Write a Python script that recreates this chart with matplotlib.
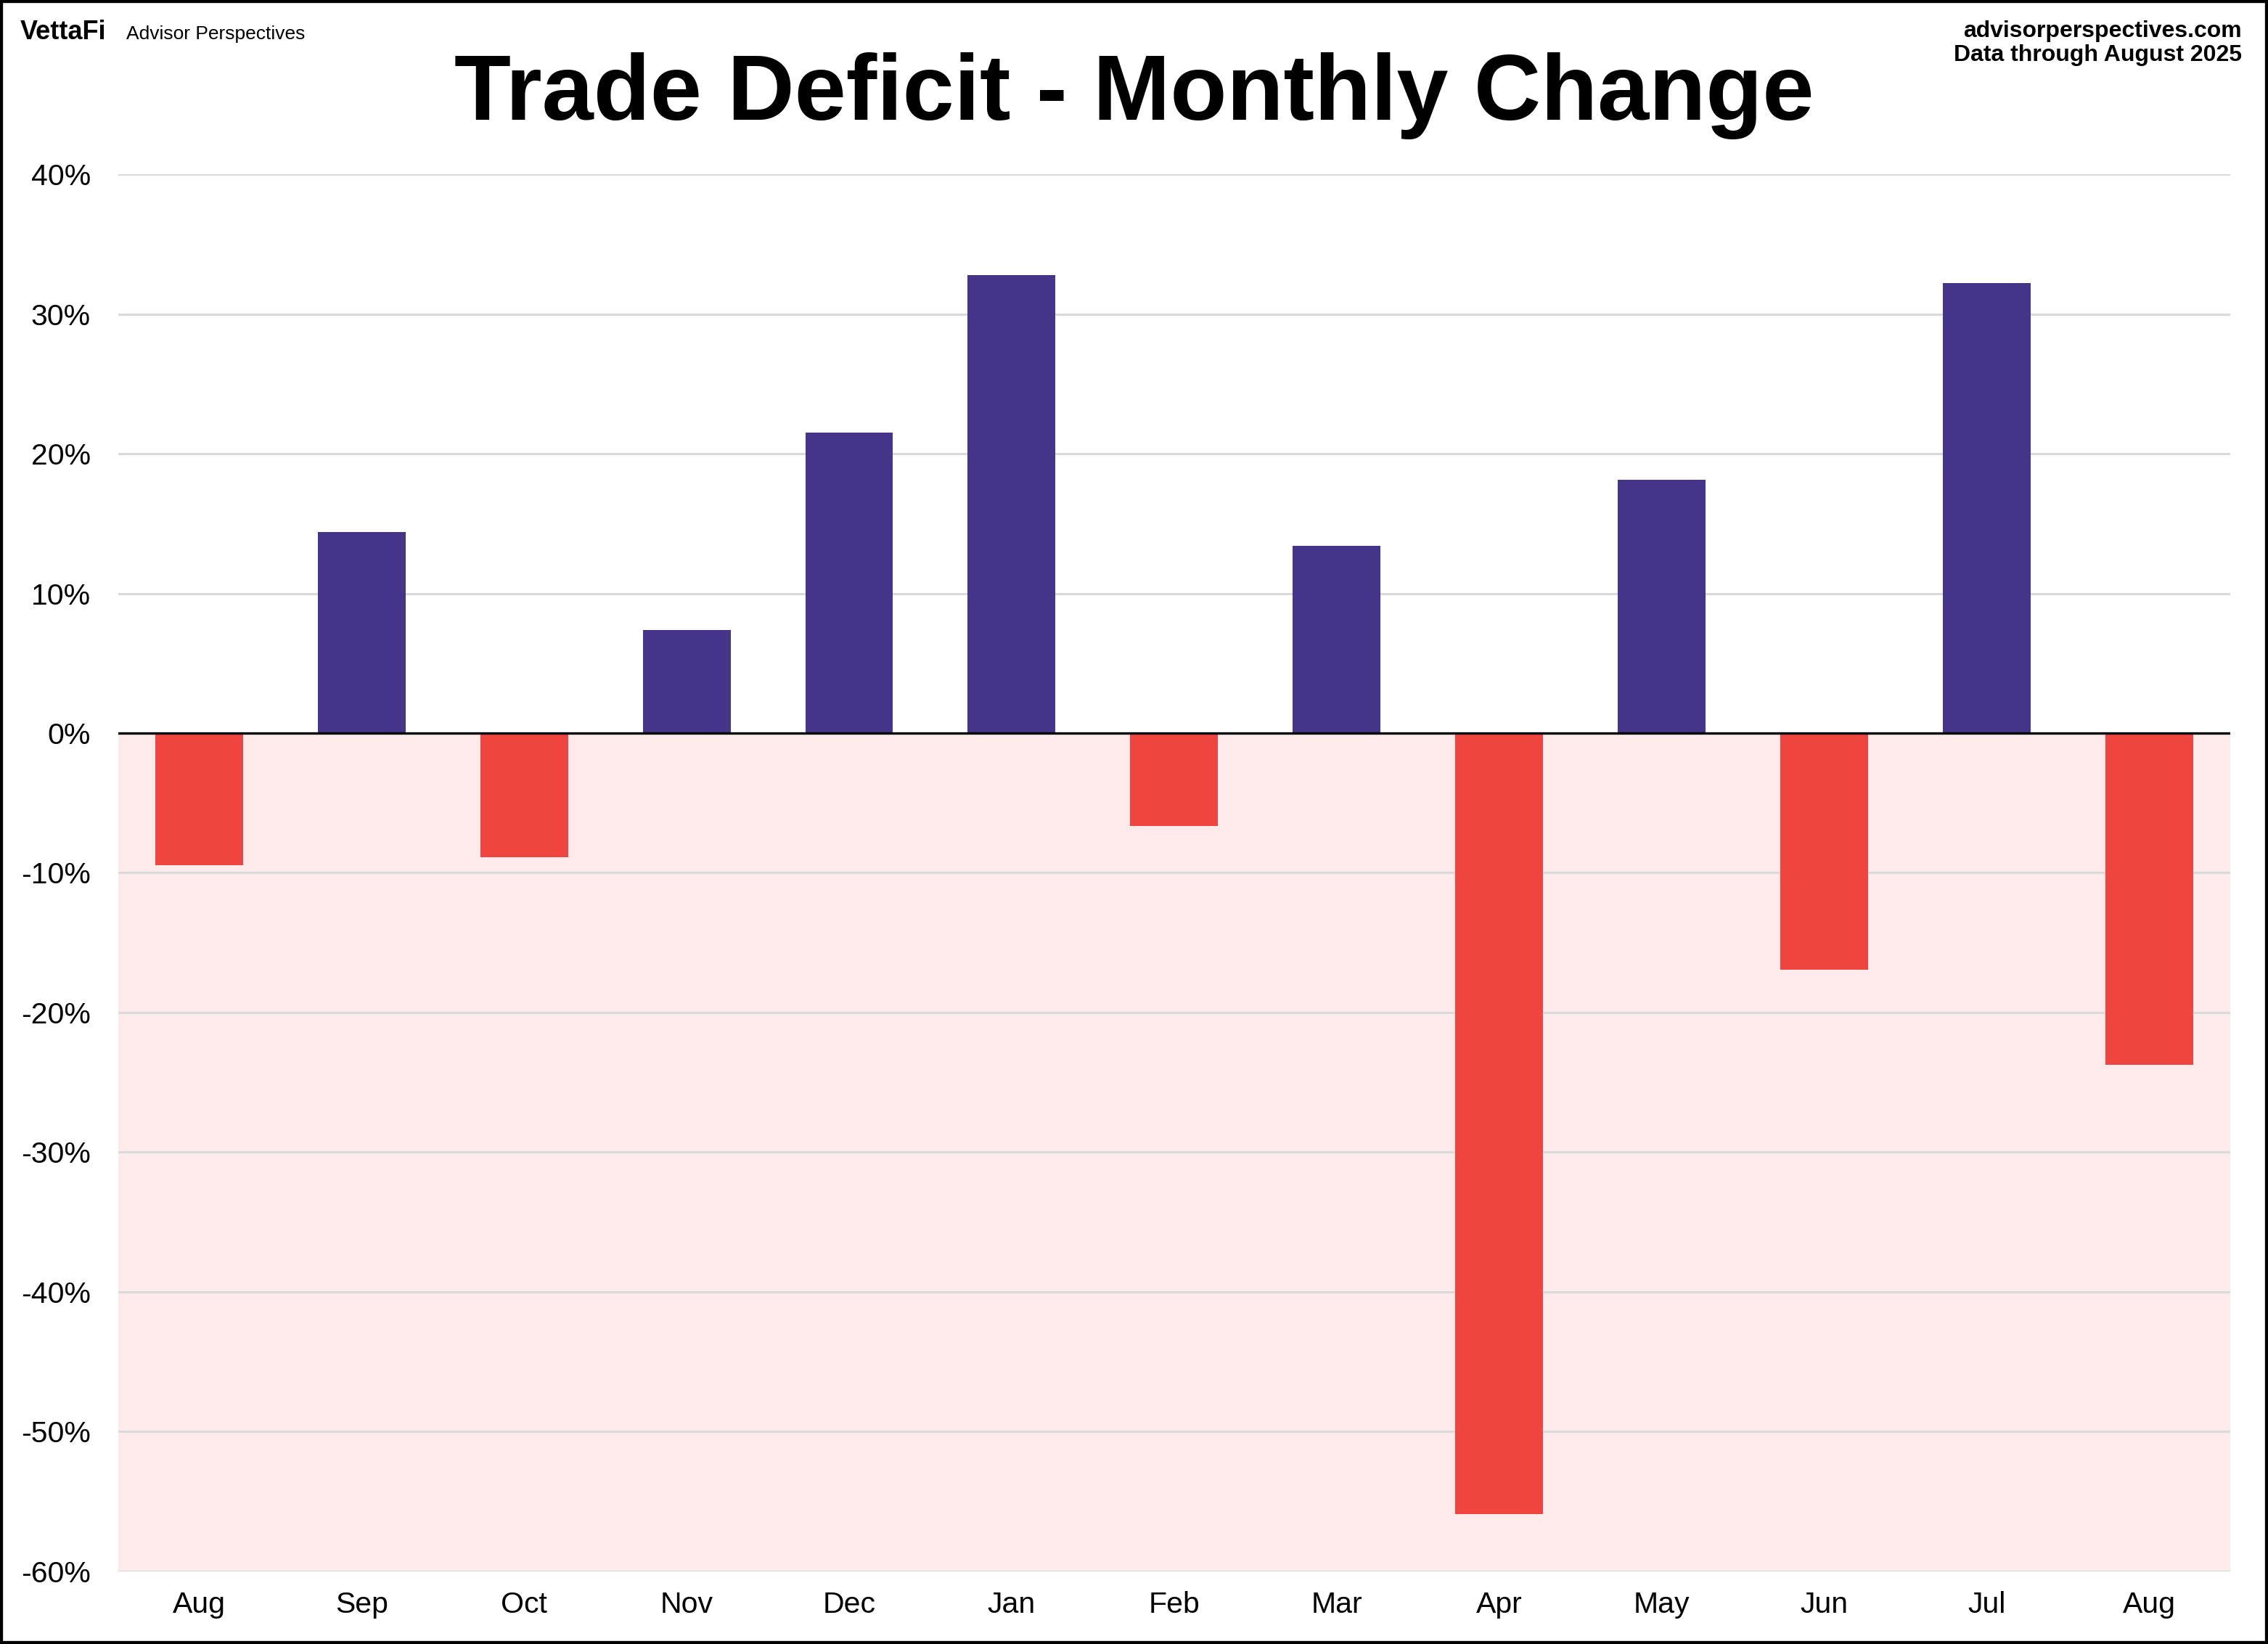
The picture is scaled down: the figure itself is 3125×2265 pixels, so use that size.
import matplotlib
matplotlib.use("Agg")
import matplotlib.pyplot as plt
from matplotlib.patches import Rectangle
from matplotlib.ticker import FuncFormatter

months = ["Aug", "Sep", "Oct", "Nov", "Dec", "Jan", "Feb", "Mar", "Apr", "May", "Jun", "Jul", "Aug"]
changes = [-9.45, 14.4, -8.9, 7.37, 21.5, 32.8, -6.66, 13.4, -55.9, 18.15, -16.96, 32.24, -23.77]
y_ticks = [40, 30, 20, 10, 0, -10, -20, -30, -40, -50, -60]

title = "Trade Deficit - Monthly Change"
site = "advisorperspectives.com"
data_note = "Data through August 2025"

POS = "#46348A"
NEG = "#F0443E"
PINK = "#FDEBEB"
GRID = "#D9D9D9"

plt.rcParams["font.family"] = ["Liberation Sans", "DejaVu Sans"]

fig = plt.figure(figsize=(31.25, 22.65), dpi=100)
ax = fig.add_axes([0.052, 0.04437, 0.98336 - 0.052, 0.8939 - 0.04437])

x = list(range(len(months)))
colors = [POS if v >= 0 else NEG for v in changes]

ax.set_xlim(-0.5, len(months) - 0.5)
ax.set_ylim(min(y_ticks), max(y_ticks))
ax.axhspan(min(y_ticks), 0, color=PINK, zorder=0, lw=0)
for t in y_ticks:
    if t != 0:
        ax.axhline(t, color=GRID, lw=2.2, zorder=1)
ax.bar(x, changes, width=0.54, color=colors, zorder=2, lw=0)
ax.axhline(0, color="black", lw=2.4, zorder=3)

ax.set_xticks(x)
ax.set_xticklabels(months)
ax.set_yticks(y_ticks)
ax.yaxis.set_major_formatter(FuncFormatter(lambda v, p: f"{int(round(v))}%"))
ax.tick_params(axis="both", length=0, labelsize=29.5, colors="black")
ax.tick_params(axis="y", pad=27)
ax.tick_params(axis="x", pad=20)
for s in ax.spines.values():
    s.set_visible(False)
ax.set_facecolor("white")

fig.text(0.5, 0.9272, title, ha="center", va="baseline", fontsize=92, fontweight="bold")
fig.text(0.9885, 1 - 51 / 2265, site, ha="right", va="baseline", fontsize=23, fontweight="bold")
fig.text(0.9885, 1 - 84 / 2265, data_note, ha="right", va="baseline", fontsize=23, fontweight="bold")
fig.text(27.5 / 3125, 1 - 54 / 2265, "VettaFi", ha="left", va="baseline", fontsize=26, fontweight="bold")
fig.text(174 / 3125, 1 - 54 / 2265, "Advisor Perspectives", ha="left", va="baseline", fontsize=19)

fig.patches.append(Rectangle((0, 0), 1, 1, transform=fig.transFigure, fill=False,
                             edgecolor="black", lw=6, zorder=10))

fig.savefig("out.png", dpi=100, facecolor="white")
